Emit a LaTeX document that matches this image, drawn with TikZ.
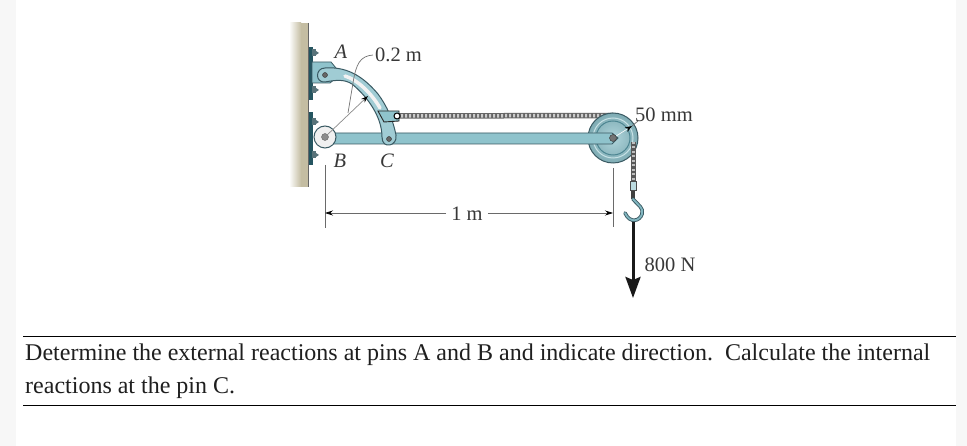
\documentclass[tikz,border=0pt]{standalone}
\usepackage{fontspec}
\setmainfont{Liberation Serif}
\usetikzlibrary{arrows.meta}
\definecolor{tealf}{HTML}{8FC3CC}
\definecolor{teald}{HTML}{2F6A78}
\definecolor{edge}{HTML}{3A5A63}
\definecolor{wallc}{HTML}{C4BDA2}
\definecolor{dimc}{HTML}{6A6A6A}
\tikzset{
 x=1pt,y=-1pt,
 lab/.style={font=\fontsize{20.5}{22}\selectfont,text=black!78,inner sep=0pt},
 ilab/.style={lab,font=\fontsize{20.5}{22}\selectfont\itshape},
 body/.style={font=\fontsize{24}{32}\selectfont,text=black!88,inner sep=0pt,anchor=base west},
 bolt/.style={fill=edge!85,draw=none},
 dimline/.style={draw=dimc,line width=.7pt},
 dimarrow/.style={dimline,-{Stealth[length=8pt,width=5pt,black]}},
 pin/.style={circle,fill=black!60,draw=black!80,line width=.4pt,inner sep=0pt,minimum size=6pt},
 rule/.style={line width=.9pt,black}
}
\begin{document}
\begin{tikzpicture}
\useasboundingbox (0,0) rectangle (967,446);
\fill[black!3] (0,0) rectangle (967,446);
\fill[white] (16,0) rectangle (956,446);
% wall
\shade[left color=white,right color=wallc,draw=none] (289,23) rectangle (301,187);
\fill[wallc] (301,23) rectangle (308,187);
\draw[line width=1pt,black!60] (308.5,23) -- (308.5,187);
% plates
\foreach \a/\b in {47/100,112/165} \fill[teald!80!black] (309,\a) rectangle (312.5,\b);
\foreach \yy in {53,90,122,155} {\fill[bolt] (312,\yy-3.5) rectangle (316,\yy+3.5); \fill[bolt] (316,\yy-2) -- (319,\yy) -- (316,\yy+2) -- cycle;}
% bracket A
\fill[tealf,draw=edge,line width=.8pt] (312,62) -- (331,62) -- (336,68) -- (336,78) -- (330,83) -- (312,83) -- cycle;
% dimensions
\coordinate (dbl) at (325,165); \coordinate (dbb) at (325,228);
\coordinate (drt) at (613,168); \coordinate (drb) at (613,227);
\draw[dimline] (dbl) -- (dbb); \draw[dimline] (drt) -- (drb);
\coordinate (dl) at (325,213); \coordinate (dr) at (613,213);
\node[lab] (onem) at (467,214) {1 m};
\draw[dimarrow] (onem.west) ++(-5,-1) -- (dl);
\draw[dimarrow] (onem.east) ++(5,-1) -- (dr);
% beam
\coordinate (pinB) at (325,137);
\coordinate (pinP) at (613,138);
% pulley
\coordinate (ropeTopL) at (397,116);
\draw[line width=5.5pt,black!60] (ropeTopL) -- (613,115.5);
\draw[line width=3.5pt,white!80!black,dash pattern=on 2pt off 2pt] (ropeTopL) -- (613,115.5);
\shade[inner color=tealf!70!white,outer color=tealf!88!black,draw=edge,line width=1pt] (pinP) circle[radius=25];
\draw[line width=1pt,teald!70!tealf] (pinP) circle[radius=17];
\draw[line width=1pt,tealf!50!white] (pinP) circle[radius=20];
\fill[tealf,draw=edge,line width=.9pt] (325,133) -- (612,133) -- (618,138) -- (612,144) -- (325,144) -- cycle;
% pulley B
\node[circle,draw=edge,line width=1pt,fill=black!6,minimum size=22pt,inner sep=0pt] (B) at (pinB) {};
\node[circle,draw=black!60,fill=black!45,inner sep=0pt,minimum size=7pt] at (pinB) {};
% curved member
\path[fill=tealf!85!white,draw=edge,line width=1pt]
 (325,68) .. controls (350,66) and (366,80) .. (378,94)
 .. controls (387,106) and (393,120) .. (396,135)
 .. controls (398,146) and (382,150) .. (382,137)
 .. controls (382,118) and (369,98) .. (352,84)
 .. controls (344,79) and (336,80) .. (325,82)
 .. controls (315,83) and (315,68) .. (325,68) -- cycle;
\draw[line width=3.5pt,black!5,line cap=round] (345,76) .. controls (358,80) and (372,94) .. (380,108);
% clamp
\fill[tealf,draw=black!85,line width=.9pt] (378,111) -- (399,111) -- (399,121) -- (384,122) -- cycle;
\node[circle,fill=white,draw=black,line width=1pt,inner sep=0pt,minimum size=6pt] (clampPin) at (397,116) {};
\node[pin,minimum size=5pt] (pinA) at (325,75) {};
\node[pin,minimum size=5pt] (pinC) at (389,139) {};
% radial dimensions
\coordinate (arcPt) at (368,96);
\draw[dimline,draw=black!45,-{Stealth[length=7pt,width=5pt,black]}] (pinB) -- (arcPt);
\node[lab] (dimA) at (398.5,55) {0.2 m};
\coordinate (lead) at (348,113);
\draw[dimline,draw=black!55] (dimA.west) ++(-2,0) .. controls (360,56) and (356,64) .. (353,83) -- (lead);
% 50 mm
\node[lab] (dimP) at (664,115) {50 mm};
\coordinate (rimP) at (632,126);
\draw[draw=white,line width=.6pt,-{Stealth[length=7pt,width=5pt,black]}] (pinP) -- (rimP);
\draw[dimline] (rimP) -- (638,121);
\node[circle,fill=black!55,draw=black!80,inner sep=0pt,minimum size=7pt] at (pinP) {};
% vertical rope
\coordinate (ropeA) at (633,142); \coordinate (ropeB) at (633,183);
\draw[line width=5pt,black!65] (ropeA) -- (ropeB);
\draw[line width=3pt,white!75!black,dash pattern=on 2pt off 2.5pt] (ropeA) -- (ropeB);
\node[draw=black!70,fill=tealf!60!white,line width=.7pt,minimum width=6pt,minimum height=9pt,inner sep=0pt] (ferrule) at (633,186) {};
\draw[line width=4pt,black!75] (ferrule.south) -- (633,199);
% hook
\coordinate (hookTop) at (633,199); \coordinate (hookEye) at (633,222);
\draw[line width=3.6pt,edge,line cap=round] (hookTop) .. controls (638,205) and (644,208) .. (642,214)
 .. controls (640,221) and (630,224) .. (625,213);
\draw[line width=1.8pt,tealf!85!teald,line cap=round] (hookTop) .. controls (638,205) and (644,208) .. (642,214)
 .. controls (640,221) and (630,224) .. (625,213);
% load arrow
\draw[line width=3pt,black!90,-{Stealth[length=21pt,width=15pt,inset=3pt]}] (hookEye) -- (633,298);
\node[lab] at (670,265) {800 N};
% labels
\node[ilab] at (341,52) {A};
\node[ilab] at (340,161) {B};
\node[ilab] at (387,161) {C};
% text block
\coordinate (r1l) at (23,336); \coordinate (r1r) at (956,336);
\coordinate (r2l) at (23,405); \coordinate (r2r) at (956,405);
\draw[rule] (r1l) -- (r1r);
\draw[rule] (r2l) -- (r2r);
\node[body] at (25,361) {Determine the external reactions at pins A and B and indicate direction.\hspace{.5em}Calculate the internal};
\node[body] at (25,393) {reactions at the pin C.};
\end{tikzpicture}
\end{document}
